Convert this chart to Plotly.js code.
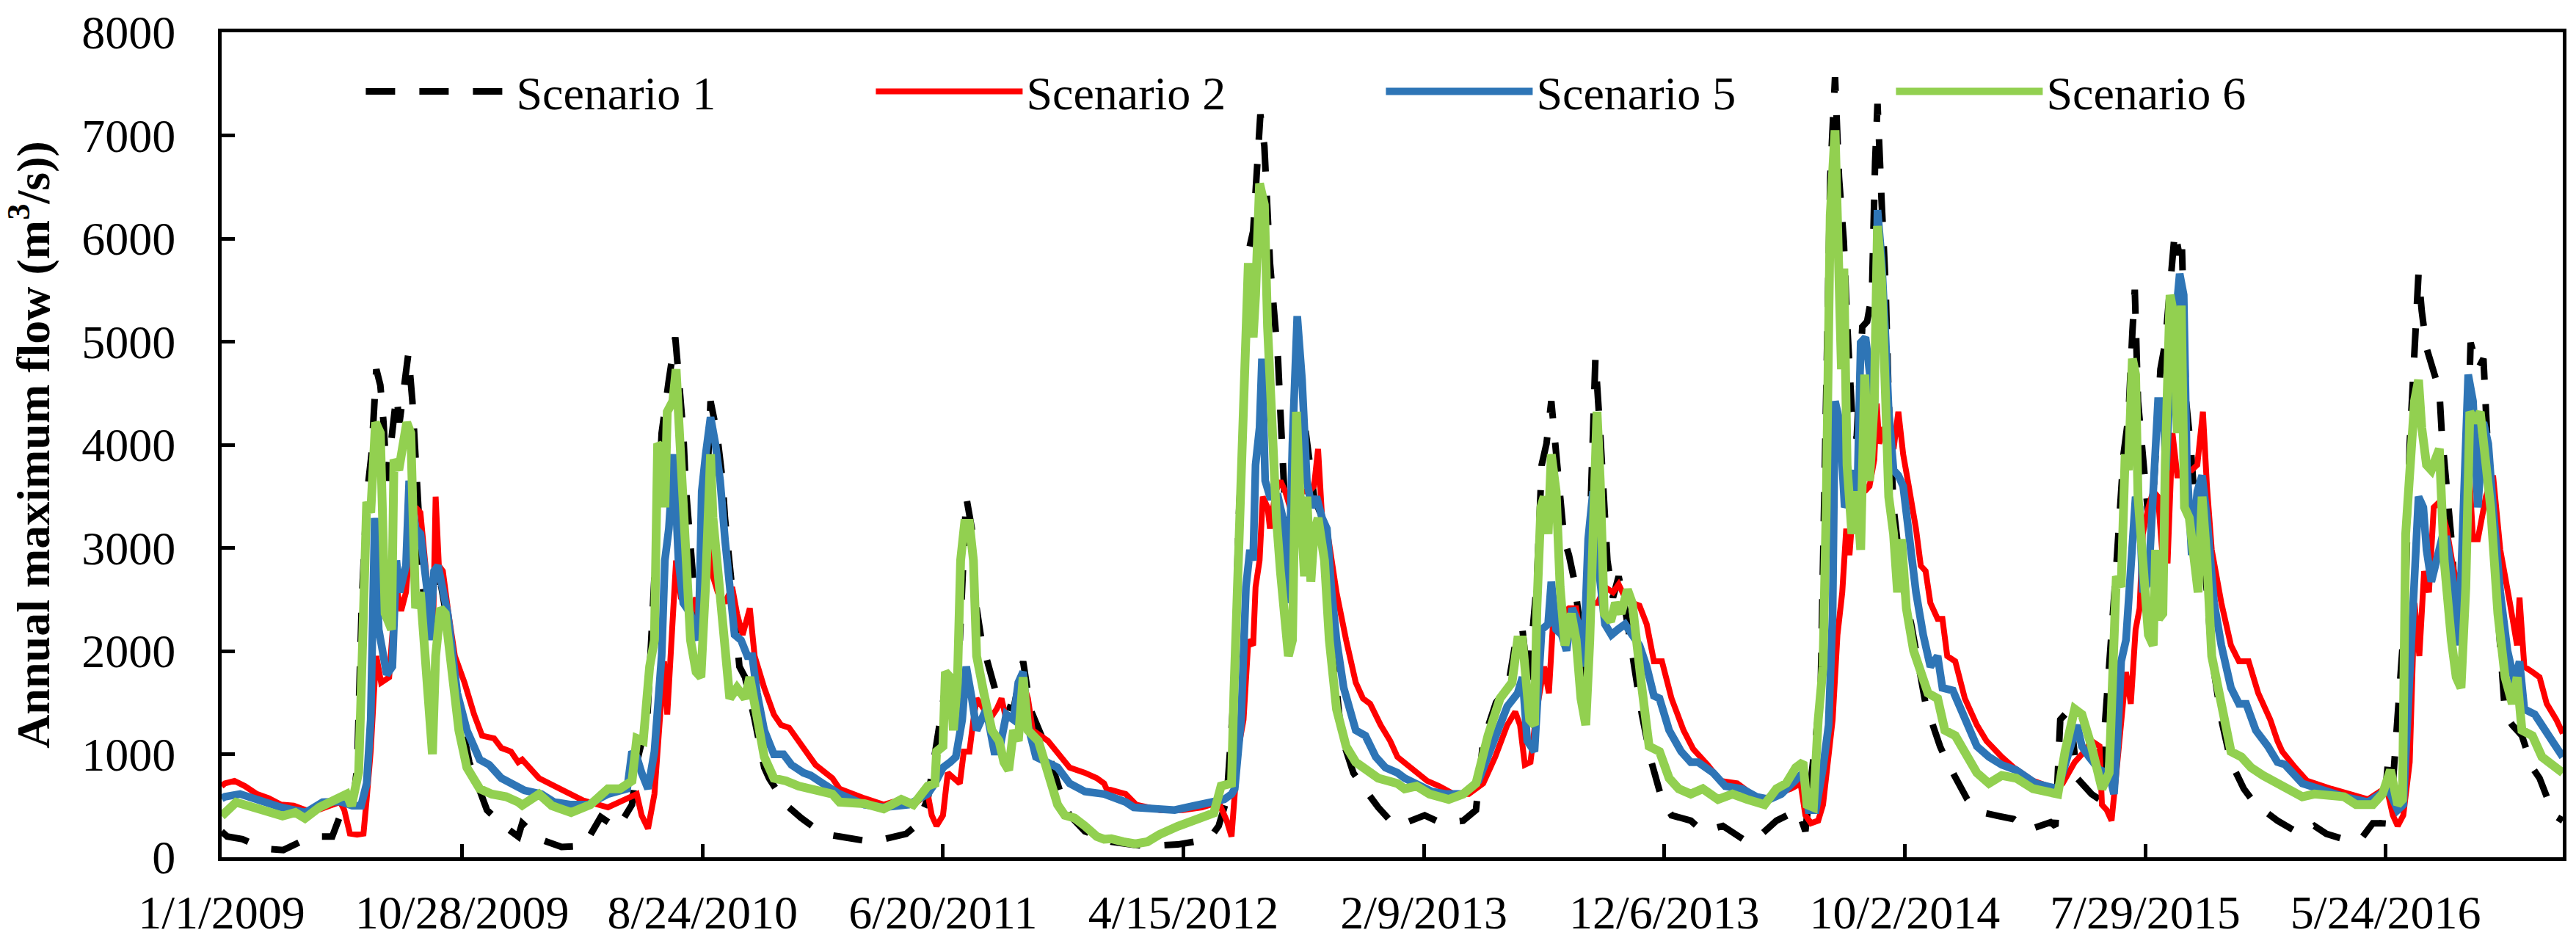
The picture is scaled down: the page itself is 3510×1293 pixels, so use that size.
<!DOCTYPE html>
<html>
<head>
<meta charset="utf-8">
<script src="https://cdn.plot.ly/plotly-3.0.1.min.js"></script>
<style>
html,body{margin:0;padding:0;background:#fff;}
#chart svg text{font-family:'Liberation Serif','Times New Roman',serif !important;}
</style>
</head>
<body>
<div id="chart" style="width:3510px;height:1293px;"></div>
<script>
// Tick labels (Excel date axis, major unit 300 days)
const tickDates = ['2009-01-01','2009-10-28','2010-08-24','2011-06-20','2012-04-15','2013-02-09','2013-12-06','2014-10-02','2015-07-29','2016-05-24'];
const tickLabels = ['1/1/2009','10/28/2009','8/24/2010','6/20/2011','4/15/2012','2/9/2013','12/6/2013','10/2/2014','7/29/2015','5/24/2016'];

// Days counted from 1/1/2009, flows in m3/s
const s1Days = [0,7,26,45,59,77,105,120,138,148,163,169,175,181,187,193,198,202,206,212,218,222,229,233,238,242,245,251,260,273,280,297,309,331,352,370,
375,396,424,452,473,494,512,518,531,543,549,558,566,570,576,579,584,587,592,598,604,610,618,625,628,634,640,646,653,665,677,683,695,704,723,735,
750,771,811,826,854,866,881,906,915,921,929,936,941,948,961,970,988,1000,1009,1019,1031,1049,1058,1077,1092,1101,
1110,1138,1159,1193,1214,1232,1244,1254,1263,1269,1275,1281,1287,1293,1296,1301,1305,1308,1313,1318,1321,1324,1330,1336,1342,1351,1357,1363,1373,1385,1397,1412,1421,1443,1458,1467,
1501,1522,1549,1565,1574,1590,1605,1617,1623,1630,1638,1641,1647,1653,1659,1662,1668,1675,1681,1688,1696,1702,1708,1714,1720,1725,1729,1736,1743,1751,1763,1772,1784,1797,1809,1833,
1848,1873,1903,1918,1940,1952,1967,1976,1995,2007,2013,2018,2024,2028,2034,2040,2047,2053,2059,2063,2066,2071,2076,2080,2086,2092,2098,2108,2117,2126,2135,2144,2153,2166,2178,2190,
2199,2217,2236,2254,2282,2288,2294,2306,2315,2321,2333,2343,2361,2364,2373,2379,2384,2387,2391,2397,2404,2410,2419,2425,2431,2437,2442,2446,2451,2457,2463,2474,2483,2495,2507,2523,2538,2565,
2593,2611,2626,2648,2669,2684,2696,2703,2709,2724,2730,2736,2741,2745,2751,2759,2767,2770,2776,2782,2791,2800,2806,2815,2822,2825,2831,2840,2849,2858,2870,2883,2892,2910,2921];
const s1Flow = [250,201,175,110,80,70,175,201,201,407,458,870,2500,3496,3908,4732,4578,4217,3651,4063,4475,4217,4629,4887,4423,3908,3393,2621,2106,2672,2363,1385,922,458,304,201,
330,178,100,110,390,280,510,922,1334,3393,4114,4629,5041,4680,4114,3599,3187,2827,2312,2106,3290,4423,4114,3651,3290,2878,2363,1849,1746,1334,870,767,613,510,381,304,
227,201,150,175,227,304,561,1797,1849,2106,3496,3187,2466,2106,1746,1488,1437,1900,1437,1231,1025,561,407,252,201,175,
150,120,110,124,150,175,304,561,1591,3290,4217,5865,6071,6740,7204,6895,6122,5762,5298,4835,4320,3908,2878,3393,4320,4217,3908,3496,3290,2106,1179,819,716,484,355,304,
407,330,355,458,1128,1500,1650,2209,2209,1700,2400,2672,3805,4011,4423,4166,3548,3084,2930,2672,2157,1694,3393,4835,4114,3496,2878,2518,2724,2415,1849,1385,922,561,407,355,
252,304,150,201,355,407,458,252,1591,6586,7564,6586,5968,5195,4320,4063,5144,5195,5453,6740,7307,6380,5556,4423,3393,2981,2620,2260,1849,1488,1282,1076,922,716,561,458,
430,400,370,265,340,300,1334,1437,767,716,613,561,2363,2827,3908,4268,5092,5504,4423,3960,3290,3496,4732,4990,5556,6071,5865,5865,4423,3960,3290,2878,1951,1334,922,664,510,355,
227,304,227,175,175,330,330,922,716,2363,4011,4835,5659,5298,4938,4732,4526,4114,3548,3084,2003,3393,4990,4732,4835,4320,3393,2363,1385,1282,1179,870,767,407,355];

const s2Days = [0,4,16,29,44,59,74,90,105,120,135,148,153,160,169,177,181,186,190,193,199,209,215,218,224,230,236,242,248,254,260,264,267,271,276,283,291,303,315,325,340,349,361,370,
375,396,421,451,482,506,518,524,532,540,546,552,556,561,567,573,579,585,592,596,601,607,613,619,628,637,643,650,659,665,677,689,698,708,720,735,
741,762,771,802,826,848,863,881,886,892,900,906,915,921,926,933,938,942,951,958,967,973,979,988,994,1000,1006,1012,1031,1046,1058,1077,1092,1101,
1104,1128,1141,1171,1199,1223,1244,1254,1260,1264,1269,1275,1281,1287,1290,1295,1299,1305,1308,1315,1321,1327,1333,1339,1348,1357,1363,1368,1373,1380,1391,1403,1415,1424,1433,1446,1458,1467,
1488,1504,1519,1537,1556,1574,1589,1604,1614,1620,1626,1633,1641,1650,1656,1661,1665,1672,1681,1690,1697,1702,1711,1717,1726,1736,1743,1751,1760,1769,1778,1787,1797,1809,1824,1833,
1836,1854,1870,1891,1909,1922,1940,1958,1970,1976,1983,1992,1998,2004,2010,2016,2022,2027,2031,2037,2044,2050,2056,2062,2065,2068,2074,2080,2086,2092,2098,2105,2114,2120,2126,2132,2141,2147,2153,2163,2175,2190,
2202,2221,2236,2260,2288,2297,2312,2324,2333,2343,2346,2352,2358,2364,2370,2376,2382,2388,2393,2397,2404,2410,2416,2422,2428,2434,2440,2446,2452,2458,2465,2472,2477,2483,2495,2507,2517,2529,2541,2556,2565,
2571,2587,2602,2632,2663,2678,2693,2703,2709,2715,2722,2730,2736,2742,2748,2754,2760,2767,2776,2785,2791,2797,2803,2809,2815,2825,2834,2843,2855,2864,2867,2873,2883,2892,2901,2913,2921];
const s2Flow = [690,716,741,690,613,572,510,500,458,458,500,535,458,230,220,230,570,1030,1591,1951,1694,1745,2363,2620,2389,2570,3136,3393,3342,2878,2363,2300,3496,2827,2775,2363,1951,1694,1385,1179,1153,1060,1025,922,
947,767,664,551,484,561,613,407,278,613,1179,1900,1385,2106,2878,2518,2466,2363,2518,2157,3599,3496,2724,2569,2466,2620,2363,2157,2415,1951,1643,1385,1282,1256,1128,973,
896,767,664,572,510,561,510,613,407,304,407,819,767,716,1025,1025,1334,1540,1437,1334,1437,1540,1334,1385,1540,1694,1540,1231,1128,973,870,819,767,716,
664,613,510,458,458,484,535,355,201,613,1076,1334,2106,2054,2620,2878,3496,3393,3187,3548,3651,3548,3393,3496,3548,3548,3599,3960,3290,3136,2569,2106,1694,1540,1488,1282,1128,973,
845,741,690,613,613,716,973,1282,1411,1282,896,922,1437,1849,1591,2260,2312,2363,2415,2415,2003,2466,2466,2466,2620,2569,2647,2518,2466,2440,2260,1900,1900,1540,1231,1076,
1050,896,741,716,613,561,613,664,716,407,330,355,510,922,1334,2157,2569,3187,2930,3548,3908,3548,3599,3857,4400,4011,4166,4114,3960,4320,3908,3599,3187,2827,2775,2466,2312,2312,1951,1900,1540,1282,
1128,973,870,741,664,716,922,1025,1128,1076,510,458,355,819,1385,1797,1488,2209,2415,3136,3393,3548,3496,2878,2878,4114,3702,3702,3754,3754,3805,4320,3599,2981,2466,2054,1900,1900,1591,1334,1128,
1025,870,741,664,587,561,638,613,407,304,407,922,2466,1951,2775,2569,3393,3445,3187,2775,2672,2620,3908,3084,3084,3496,3702,2981,2466,2054,2518,1849,1797,1746,1488,1334,1200];

const s5Days = [0,4,23,44,74,105,126,148,163,174,181,186,188,191,196,206,213,218,222,230,234,242,248,256,260,265,270,276,282,294,306,322,334,349,370,
378,399,415,436,457,482,506,512,518,524,532,540,549,553,558,564,570,576,585,595,599,604,610,616,622,628,634,640,648,656,662,668,677,689,701,711,726,735,
750,771,802,826,857,881,890,900,909,916,924,929,936,942,954,964,970,979,988,994,1000,1006,1016,1031,1043,1058,1077,1101,
1110,1128,1138,1168,1189,1214,1238,1251,1260,1264,1272,1278,1283,1287,1290,1295,1298,1302,1308,1318,1324,1331,1336,1342,1348,1354,1360,1366,1373,1379,1385,1391,1400,1415,1427,1440,1452,1467,
1476,1495,1510,1528,1549,1568,1586,1604,1617,1623,1629,1638,1647,1655,1659,1665,1672,1678,1685,1693,1699,1705,1711,1717,1726,1734,1742,1751,1760,1769,1778,1787,1794,1806,1821,1833,
1842,1861,1876,1897,1915,1931,1946,1961,1973,1980,1989,1998,2005,2010,2013,2019,2025,2031,2037,2040,2045,2051,2056,2062,2066,2071,2076,2080,2086,2092,2098,2105,2114,2123,2132,2141,2147,2160,2175,2190,
2205,2221,2239,2263,2291,2300,2309,2315,2321,2330,2343,2355,2361,2365,2370,2376,2382,2388,2393,2397,2404,2410,2416,2422,2426,2431,2437,2443,2448,2452,2458,2465,2471,2477,2486,2495,2507,2517,2526,2538,2553,2565,
2574,2596,2617,2648,2678,2693,2703,2709,2715,2722,2730,2736,2741,2747,2751,2757,2764,2770,2776,2785,2791,2797,2803,2809,2815,2822,2828,2834,2843,2852,2861,2867,2873,2886,2898,2910,2921];
const s5Flow = [570,587,613,560,484,434,534,541,500,500,716,1334,2500,3290,2209,1771,1849,2878,2570,2827,3651,3187,3136,2621,2106,2775,2827,2621,2363,1591,1231,947,896,767,690,
648,613,535,510,510,613,664,1025,973,819,664,1025,1951,2878,3187,3908,2878,2466,2363,2106,3548,3908,4268,4011,3651,3084,2620,2157,2106,1951,1951,1591,1231,999,999,896,819,793,
716,613,510,484,510,613,716,870,922,973,1334,1849,1540,1231,1437,1025,1025,1385,1334,1694,1797,1282,973,922,870,716,638,613,
587,535,484,458,458,500,535,561,613,664,1334,2620,2981,2878,3805,4166,4835,3651,3496,3496,3290,2466,4011,5247,4629,3651,3393,3496,3290,3187,2569,2106,1643,1231,1179,973,870,819,
767,690,638,613,613,741,1128,1462,1591,1746,1128,1025,2209,2260,2672,2209,2157,2003,2415,2260,1849,3084,3548,2878,2260,2157,2209,2260,2157,2054,1849,1565,1540,1231,1025,922,
922,819,690,664,587,561,613,716,819,458,458,870,1282,2363,4423,4217,3393,3496,3754,3239,4990,5041,4680,4320,6277,5813,5041,4320,3754,3702,3599,3084,2569,2157,1849,1951,1643,1617,1334,1076,
973,896,845,716,664,870,1128,1282,1076,973,845,819,613,1076,1900,2106,2878,3496,3393,2569,2672,3496,4423,4423,3754,4629,5247,5659,5453,3805,2930,3548,3702,3290,2466,2054,1643,1488,1488,1231,1076,922,
900,716,664,587,535,613,664,561,458,510,1849,2878,3496,3393,2981,2672,2878,3084,3084,2620,2054,3651,4680,4423,3393,4217,4011,3393,2569,2003,1694,1900,1437,1385,1231,1102,973];

const s6Days = [0,4,18,46,76,92,104,122,147,156,162,171,175,181,186,192,198,204,212,215,221,225,231,236,239,242,248,254,260,263,267,273,279,286,296,306,322,337,355,370,
375,396,412,436,460,482,497,512,518,526,534,540,544,550,553,556,563,567,572,578,585,592,598,604,610,613,618,622,628,634,643,653,659,668,677,689,704,720,735,
744,762,771,802,826,848,863,881,890,892,900,903,909,913,918,922,927,933,938,942,951,961,970,976,982,988,994,1000,1006,1019,1031,1043,1052,1064,1077,1092,1101,
1110,1125,1140,1155,1170,1193,1214,1238,1247,1260,1263,1269,1275,1281,1287,1290,1295,1301,1305,1310,1316,1321,1327,1331,1336,1341,1345,1351,1354,1359,1363,1368,1376,1382,1391,1403,1415,1427,1443,1467,
1476,1491,1507,1531,1549,1565,1580,1595,1610,1617,1623,1632,1638,1641,1646,1650,1655,1659,1665,1670,1676,1684,1690,1696,1702,1707,1711,1716,1720,1725,1733,1739,1746,1754,1760,1766,1772,1781,1794,1806,1818,1833,
1848,1867,1885,1903,1925,1940,1952,1964,1973,1978,1986,1992,1998,2002,2007,2013,2016,2021,2024,2028,2034,2040,2045,2050,2056,2062,2066,2071,2076,2080,2086,2091,2096,2102,2111,2120,2129,2141,2150,2163,2178,2190,
2205,2221,2239,2260,2291,2300,2312,2321,2333,2340,2346,2355,2361,2364,2370,2375,2379,2384,2388,2391,2397,2404,2410,2413,2417,2422,2425,2431,2436,2440,2445,2449,2455,2462,2466,2471,2477,2483,2495,2507,2520,2532,2547,2565,
2577,2596,2611,2632,2648,2663,2684,2696,2706,2715,2721,2725,2730,2736,2741,2745,2751,2757,2767,2773,2782,2788,2794,2800,2805,2812,2818,2825,2831,2840,2849,2858,2864,2870,2883,2895,2907,2921];
const s6Flow = [400,430,533,470,400,434,377,484,590,612,498,826,1849,3445,3342,4217,4114,2363,2209,3857,3754,3960,4217,4114,2878,2415,2570,1849,1076,1000,1951,2415,2363,1849,1231,870,664,612,587,535,
505,612,500,434,510,664,664,741,1153,1128,1849,2106,4011,3960,3393,4320,4423,4732,3908,2878,2106,1797,1746,2672,3908,3290,2878,2415,1951,1540,1643,1540,1746,1334,973,767,741,690,664,
664,613,535,520,469,561,510,690,716,1025,1076,1797,1746,1231,1694,2878,3239,3239,2878,1951,1591,1231,1128,922,845,1231,1128,1746,1231,1128,819,510,407,381,304,201,175,
180,150,130,150,220,300,355,430,690,716,1591,2878,4114,5762,5041,5453,6534,6328,5144,4166,3290,2775,2260,1951,2106,4320,3599,2724,3496,2672,3136,3290,2878,2106,1437,1076,922,845,767,716,
664,690,613,561,613,716,1179,1540,1694,2106,2106,1334,1282,2415,3393,3496,3136,3908,3548,2620,2054,2363,2106,1540,1282,2106,3393,4320,3651,2363,2286,2466,2363,2595,2466,2003,1643,1076,1025,767,664,613,
664,561,613,561,510,664,716,870,922,510,484,1334,1849,3393,6225,7050,5968,4732,5710,3805,3136,3548,2981,4680,3651,4423,6122,5608,4475,3496,3136,2569,3084,2415,2003,1797,1591,1540,1231,1179,973,819,
716,793,767,664,613,1025,1437,1385,1076,819,664,819,2363,2724,2620,3908,3754,4835,4680,3496,2878,2157,2054,2981,2312,2363,3805,5453,5247,4114,5350,3393,3290,2878,2569,3496,2878,1951,1437,1025,973,870,793,716,
664,587,613,587,587,510,510,613,845,510,561,3136,3702,4423,4629,4166,3805,3754,3960,2878,2106,1746,1643,2620,4320,4217,4320,3908,3393,2363,1746,1488,1746,1231,1179,973,896,819];

const seriesNames = ['Scenario 1','Scenario 2','Scenario 5','Scenario 6'];

const base = Date.UTC(2009, 0, 1);
const toDate = d => new Date(base + d * 86400000).toISOString().slice(0, 10);

const traces = [
  {x: s1Days.map(toDate), y: s1Flow, name: seriesNames[0], type: 'scatter', mode: 'lines',
   line: {color: '#000000', width: 9, dash: '40px,33px'}},
  {x: s2Days.map(toDate), y: s2Flow, name: seriesNames[1], type: 'scatter', mode: 'lines',
   line: {color: '#FF0000', width: 8}},
  {x: s5Days.map(toDate), y: s5Flow, name: seriesNames[2], type: 'scatter', mode: 'lines',
   line: {color: '#2E75B6', width: 10.5}},
  {x: s6Days.map(toDate), y: s6Flow, name: seriesNames[3], type: 'scatter', mode: 'lines',
   line: {color: '#92D050', width: 12}}
];

const serif = 'Liberation Serif';

const layout = {
  width: 3510, height: 1293,
  margin: {l: 302, r: 18, t: 44, b: 125, pad: 0},
  paper_bgcolor: '#ffffff', plot_bgcolor: '#ffffff',
  font: {family: serif, size: 64, color: '#000000'},
  showlegend: true,
  legend: {
    orientation: 'h', x: 0.06, y: 0.928, xanchor: 'left', yanchor: 'middle',
    bgcolor: 'rgba(0,0,0,0)', borderwidth: 0,
    font: {family: serif, size: 64, color: '#000000'},
    itemwidth: 200, entrywidth: 480, entrywidthmode: 'pixels', traceorder: 'normal'
  },
  xaxis: {
    type: 'date', range: ['2009-01-01', '2016-12-31'],
    tickmode: 'array', tickvals: tickDates, ticktext: tickLabels,
    ticks: 'inside', ticklen: 18, tickwidth: 5, tickcolor: '#000000',
    showline: true, linewidth: 5, linecolor: '#000000', mirror: true,
    showgrid: false, zeroline: false, ticklabelstandoff: 15,
    tickfont: {family: serif, size: 64, color: '#000000'}
  },
  yaxis: {
    range: [0, 8000], tick0: 0, dtick: 1000,
    ticks: 'inside', ticklen: 18, tickwidth: 5, tickcolor: '#000000',
    showline: true, linewidth: 5, linecolor: '#000000', mirror: true,
    showgrid: false, zeroline: false, ticklabelstandoff: 45,
    tickfont: {family: serif, size: 64, color: '#000000'},
    title: {text: '<b>Annual maximum flow (m<sup>3</sup>/s))</b>', font: {family: serif, size: 64, color: '#000000'}, standoff: 40}
  }
};

Plotly.newPlot('chart', traces, layout, {displayModeBar: false, staticPlot: true});
</script>
</body>
</html>
